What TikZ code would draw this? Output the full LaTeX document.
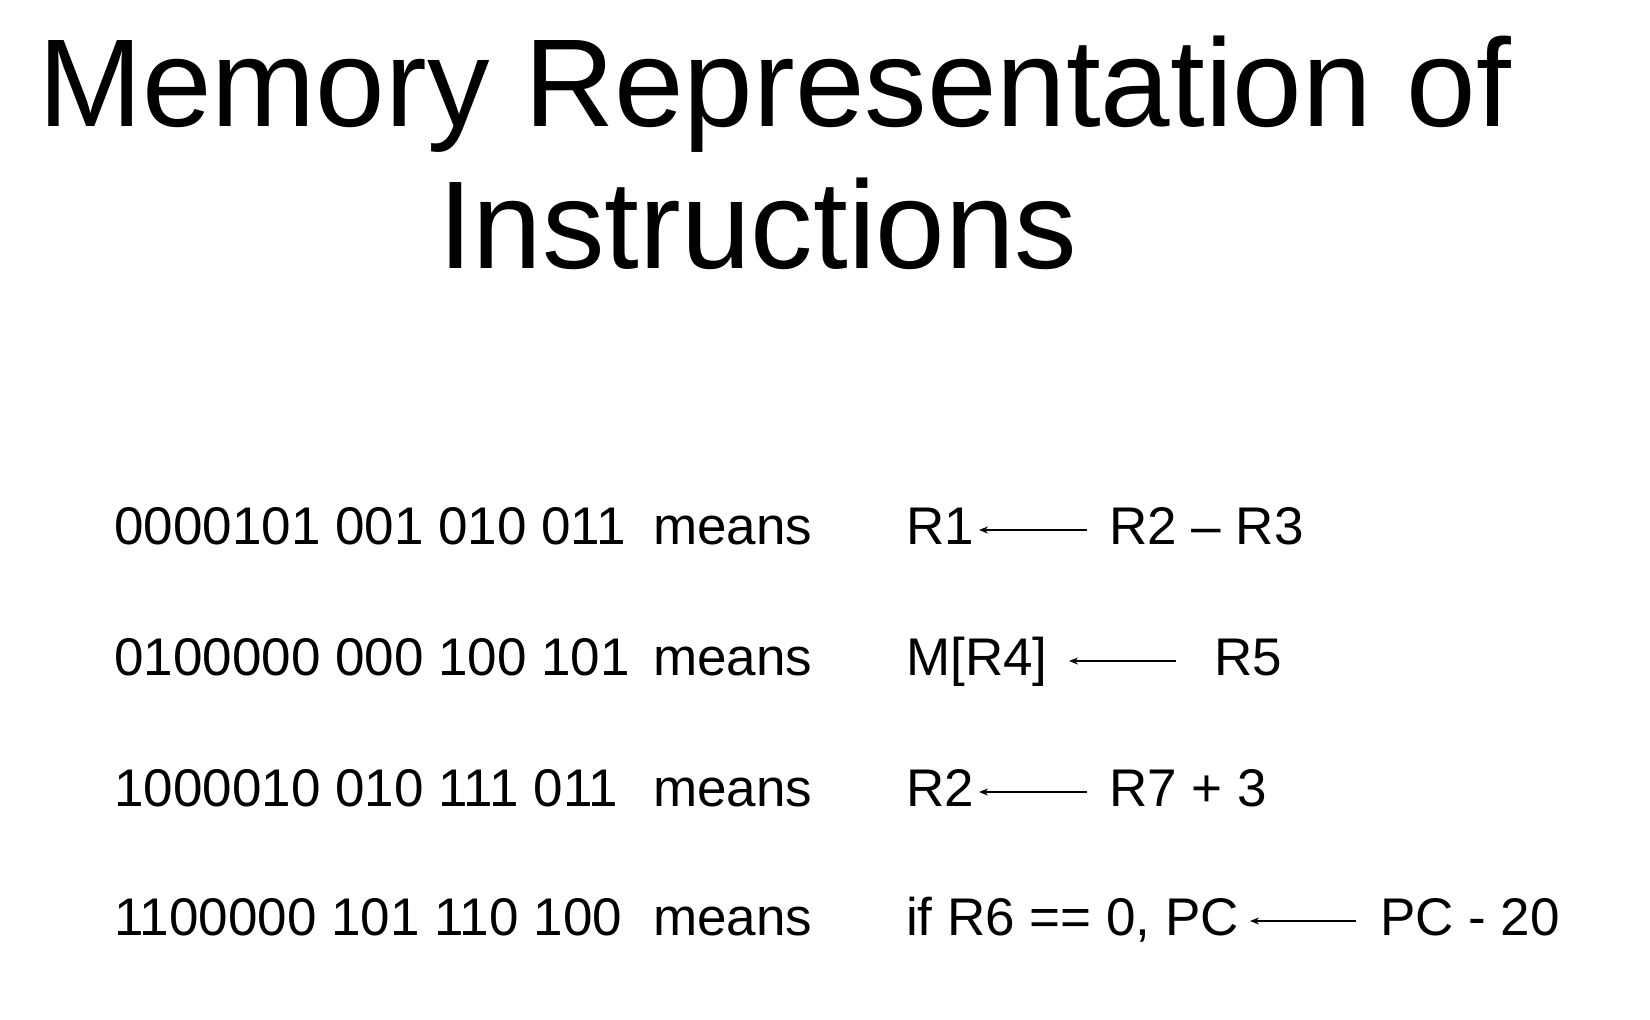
\documentclass[tikz,border=0pt]{standalone}
\usepackage{fontspec}
\setmainfont{Liberation Sans}
\usetikzlibrary{arrows.meta}
\begin{document}
\begin{tikzpicture}[x=1pt,y=-1pt,
  txt/.style={anchor=base west,inner sep=0pt,font=\fontsize{53}{60}\selectfont},
  ttl/.style={anchor=base west,inner sep=0pt,font=\fontsize{125}{140}\selectfont},
  arr/.style={-{Stealth[length=9pt,width=7pt]},line width=1.5pt}]
\useasboundingbox (0,0) rectangle (1650,1020);
\node[ttl] (t1) at (38,126) {Memory Representation of};
\node[ttl] (t2) at (438,268) {Instructions};
\foreach \i/\y/\c in {1/544/0000101 001 010 011,2/675/0100000 000 100 101,3/806/1000010 010 111 011,4/935/1100000 101 110 100}{
  \node[txt] (c\i) at (114,\y) {\c};
  \node[txt] (m\i) at (653,\y) {means};
}
\node[txt] (l1) at (906,544) {R1};
\node[txt] (r1) at (1109,544) {R2 – R3};
\node[txt] (l2) at (906,675) {M[R4]};
\node[txt] (r2) at (1214,675) {R5};
\node[txt] (l3) at (906,806) {R2};
\node[txt] (r3) at (1109,806) {R7 + 3};
\node[txt] (l4) at (906,935) {if R6 == 0, PC};
\node[txt] (r4) at (1380,935) {PC - 20};
\coordinate (a1) at (1087,530); \coordinate (b1) at (979,530);
\coordinate (a2) at (1176,661); \coordinate (b2) at (1069,661);
\coordinate (a3) at (1087,792); \coordinate (b3) at (979,792);
\coordinate (a4) at (1356,921); \coordinate (b4) at (1250,921);
\foreach \i in {1,2,3,4}{\draw[arr] (a\i) -- (b\i);}
\end{tikzpicture}
\end{document}
